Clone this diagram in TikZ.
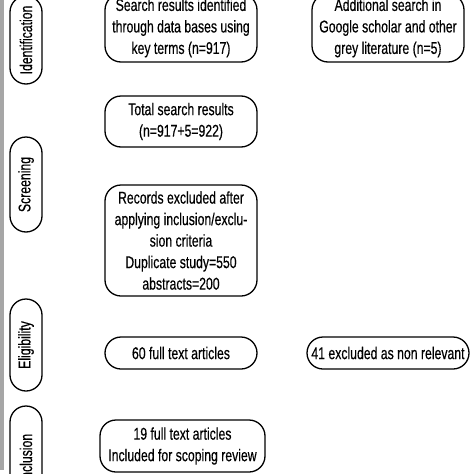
\documentclass[tikz,border=0pt]{standalone}
\usepackage{fontspec}
\setmainfont{Liberation Sans}[FakeStretch=0.72, FakeBold=0.4]
\begin{document}
\begin{tikzpicture}[x=1pt,y=-1pt,
  txt/.style={font={\fontsize{17}{21.5}\selectfont}, align=center, inner sep=0pt},
  box/.style={txt, draw=black, line width=1.3pt, rounded corners=16pt},
  stage/.style={txt, draw=black, line width=1.3pt, rounded corners=16pt, rotate=90, minimum height=32pt}]
\useasboundingbox (0,0) rectangle (474,474);
\clip (0,0) rectangle (474,474);
\fill[gray!70] (0,0) rectangle (4,470);
% stage labels
\node[stage, minimum width=88pt] (sid) at (26,40) {Identification};
\node[stage, minimum width=95pt] (sscr) at (26,184.5) {Screening};
\node[stage, minimum width=92pt] (selig) at (26,345) {Eligibility};
\node[stage, minimum width=104pt] (sinc) at (26,458) {Inclusion};
% boxes
\node[box, minimum width=152pt, minimum height=68pt] (search) at (181,28) {Search results identified\\through data bases using\\key terms (n=917)};
\node[box, minimum width=152pt, minimum height=68pt] (add) at (388,28) {Additional search in\\Google scholar and other\\grey literature (n=5)};
\node[box, minimum width=152pt, minimum height=51pt] (total) at (181,121.5) {Total search results\\(n=917+5=922)};
\node[box, minimum width=152pt, minimum height=111pt] (rec) at (181,240.5) {Records excluded after\\applying inclusion/exclu-\\sion criteria\\Duplicate study=550\\abstracts=200};
\node[box, minimum width=152pt, minimum height=32pt] (full) at (181,353) {60 full text articles};
\node[box, minimum width=162pt, minimum height=32pt] (excl) at (388,353) {41 excluded as non relevant};
\node[box, minimum width=165pt, minimum height=52pt] (incl) at (182.5,446) {19 full text articles\\Included for scoping review};
\end{tikzpicture}
\end{document}
